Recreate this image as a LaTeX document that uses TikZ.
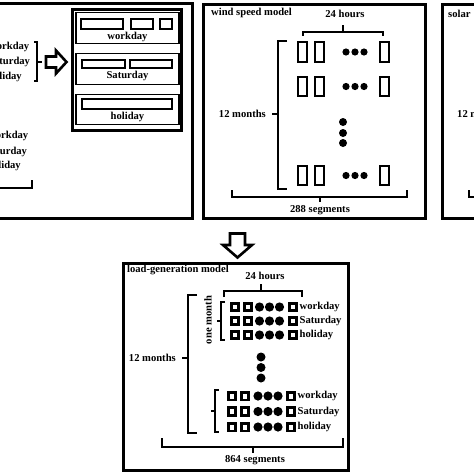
\documentclass[tikz,border=0pt]{standalone}
\usepackage{fontspec}
\setmainfont{Liberation Serif}
\begin{document}
\begin{tikzpicture}[x=1pt,y=-1pt,
  frame/.style={draw=black,line width=3pt},
  thinbox/.style={draw=black,line width=1.4pt},
  bar/.style={draw=black,line width=2.4pt},
  sq/.style={draw=black,line width=2.6pt},
  brk/.style={draw=black,line width=1.2pt},
  hollow/.style={draw=black,line width=2.6pt,fill=white,line join=miter},
  dotc/.style={fill=black},
  lbl/.style={inner sep=0pt,font=\fontsize{10.6}{12}\selectfont\bfseries}]
\useasboundingbox (0,0) rectangle (474,474);
\clip (0,0) rectangle (474,474);
\fill[white] (0,0) rectangle (474,474);

% ---------------- left panel ----------------
\draw[frame] (-10,3) rectangle (192,218);
\draw[frame] (72.5,9.5) rectangle (181.5,130.5);
\draw[thinbox] (76,12.5) rectangle (179,43.5);
\draw[thinbox] (76,53.5) rectangle (179,84.5);
\draw[thinbox] (76,94.5) rectangle (179,124.5);
\draw[bar] (81,19) rectangle (123,29);
\draw[bar] (131,19) rectangle (153,29);
\draw[bar] (160,19) rectangle (172,29);
\draw[bar] (82,60) rectangle (125,68);
\draw[bar] (130,60) rectangle (172,68);
\draw[bar] (82,99) rectangle (172,109);
\node[lbl] (cwd) at (127.5,37) {workday};
\node[lbl] (csa) at (127.5,76) {Saturday};
\node[lbl] (cho) at (127.5,117) {holiday};

\node[lbl,anchor=west] (lwd1) at (-11,47) {workday};
\node[lbl,anchor=west] (lsa1) at (-12,62) {Saturday};
\node[lbl,anchor=west] (lho1) at (-12,77) {holiday};
\draw[brk] (34,42) -- (37,42) -- (37,81) -- (34,81);
\draw[brk] (37,62) -- (42,62);
\draw[hollow] (46,56.5) -- (56,56.5) -- (56,50.5) -- (66.5,62) -- (56,73.5) -- (56,67.5) -- (46,67.5) -- cycle;

\node[lbl,anchor=west] (lwd2) at (-12,136) {workday};
\node[lbl,anchor=west] (lsa2) at (-15,152) {Saturday};
\node[lbl,anchor=west] (lho2) at (-13,166) {holiday};
\draw[brk] (-10,188) -- (32,188) -- (32,180);

% ---------------- wind speed panel ----------------
\draw[frame] (203,4) rectangle (425,218);
\node[lbl,anchor=west] (wtitle) at (211,13) {wind speed model};
\node[lbl] (w24) at (345,14) {24 hours};
\draw[brk] (303,35.5) -- (303,32) -- (383,32) -- (383,35.5);
\draw[brk] (343,32) -- (343,25);
\foreach \ya/\yb in {41/63, 76/97, 165/186}{
  \draw[bar] (298.2,\ya+1.2) rectangle (306.8,\yb-1.2);
  \draw[bar] (315.2,\ya+1.2) rectangle (323.8,\yb-1.2);
  \draw[bar] (380.2,\ya+1.2) rectangle (388.8,\yb-1.2);
  \foreach \xd in {346,355,364}
    \fill[dotc] (\xd,{(\ya+\yb)/2}) circle (3.6);
}
\foreach \yd in {122,133,143}
  \fill[dotc] (343,\yd) circle (4);
\draw[brk] (287,41) -- (278,41) -- (278,189) -- (287,189);
\draw[brk] (278,114) -- (272,114);
\node[lbl,anchor=east] (w12) at (266,114) {12 months};
\draw[brk] (232,190) -- (232,197) -- (407,197) -- (407,190);
\draw[brk] (320,197) -- (320,202);
\node[lbl] (w288) at (320,210) {288 segments};

% ---------------- solar panel (cut off) ----------------
\draw[frame] (442,4) rectangle (490,218);
\node[lbl,anchor=west] (stitle) at (448,14) {solar};
\node[lbl,anchor=west] (s12) at (457,114) {12 months};
\draw[brk] (469,190) -- (469,197) -- (480,197);

% ---------------- arrow down ----------------
\draw[hollow] (230,233.5) -- (245,233.5) -- (245,245) -- (252,245) -- (237.5,257.5) -- (223,245) -- (230,245) -- cycle;

% ---------------- load-generation panel ----------------
\draw[frame] (123,263) rectangle (348,470);
\node[lbl,anchor=west] (ltitle) at (127,270) {load-generation model};
\node[lbl] (l24) at (265,276) {24 hours};
\draw[brk] (224,297) -- (224,291) -- (302,291) -- (302,297);
\draw[brk] (261,291) -- (261,283.5);
% upper group
\foreach \yc/\txt/\nm in {307/workday/ua, 321/Saturday/ub, 335/holiday/uc}{
  \draw[sq] (231.3,\yc-3.7) rectangle (238.7,\yc+3.7);
  \draw[sq] (244.3,\yc-3.7) rectangle (251.7,\yc+3.7);
  \draw[sq] (289.3,\yc-3.7) rectangle (296.2,\yc+3.7);
  \foreach \xd in {259.5,269.5,279.5}
    \fill[dotc] (\xd,\yc) circle (4.6);
  \node[lbl,anchor=west] (\nm) at (299.5,\yc) {\txt};
}
\draw[brk] (225,302) -- (221,302) -- (221,340) -- (225,340);
\draw[brk] (221,321) -- (216.5,321);
\node[lbl,rotate=90] (onem) at (208,320) {one month};
\foreach \yd in {357,367.5,378}
  \fill[dotc] (261,\yd) circle (4.5);
% lower group
\foreach \yc/\txt/\nm in {396/workday/da, 411.5/Saturday/db, 427/holiday/dc}{
  \draw[sq] (228.3,\yc-3.8) rectangle (235.7,\yc+3.8);
  \draw[sq] (241.3,\yc-3.8) rectangle (248.7,\yc+3.8);
  \draw[sq] (287.3,\yc-3.8) rectangle (294.2,\yc+3.8);
  \foreach \xd in {258,268,278}
    \fill[dotc] (\xd,\yc) circle (4.6);
  \node[lbl,anchor=west] (\nm) at (297.5,\yc) {\txt};
}
\draw[brk] (219,390) -- (215,390) -- (215,432) -- (219,432);
\draw[brk] (215,411) -- (210.5,411);
\draw[brk] (197,295) -- (188,295) -- (188,433) -- (197,433);
\draw[brk] (188,358) -- (182,358);
\node[lbl,anchor=east] (l12) at (176,358) {12 months};
\draw[brk] (162,438) -- (162,447) -- (343,447) -- (343,438);
\draw[brk] (253,447) -- (253,453);
\node[lbl] (l864) at (255,460) {864 segments};
\end{tikzpicture}
\end{document}
